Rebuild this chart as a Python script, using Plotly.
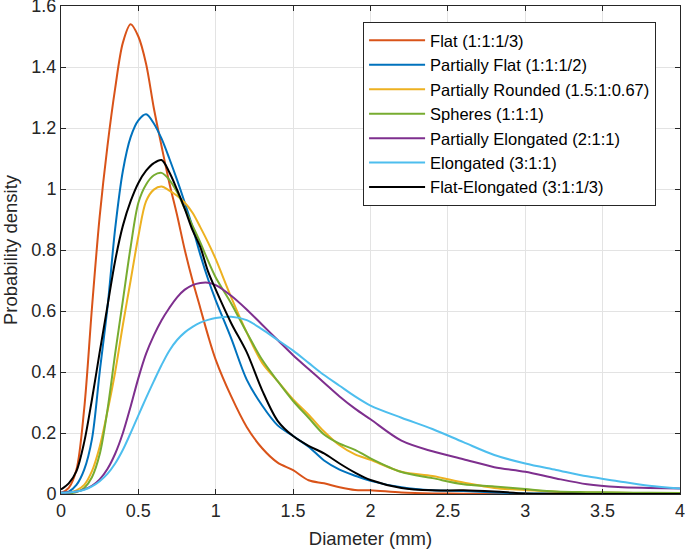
import plotly.graph_objects as go

# diameter grid (mm)
diameter = [0, 0.05, 0.1, 0.15, 0.2, 0.25, 0.3, 0.35, 0.4, 0.45, 0.5, 0.55, 0.6, 0.65,
            0.7, 0.75, 0.8, 0.85, 0.9, 0.95, 1.0, 1.1, 1.2, 1.3, 1.4, 1.5, 1.6, 1.7,
            1.8, 1.9, 2.0, 2.2, 2.4, 2.6, 2.8, 3.0, 3.2, 3.4, 3.6, 3.8, 4.0]

flat = [0.003, 0.02, 0.08, 0.28, 0.61, 0.91, 1.14, 1.33, 1.48, 1.54, 1.50, 1.41, 1.265,
        1.14, 1.02, 0.915, 0.80, 0.70, 0.61, 0.52, 0.44, 0.32, 0.22, 0.15, 0.103, 0.078,
        0.045, 0.035, 0.022, 0.013, 0.012, 0.005, 0.002, 0.001, 0, 0, 0, 0, 0, 0, 0]
part_flat = [0.004, 0.008, 0.03, 0.08, 0.18, 0.40, 0.61, 0.87, 1.06, 1.17, 1.225, 1.245,
             1.215, 1.165, 1.10, 1.03, 0.955, 0.875, 0.785, 0.705, 0.635, 0.51, 0.375,
             0.29, 0.225, 0.19, 0.155, 0.11, 0.08, 0.06, 0.043, 0.022, 0.012, 0.01, 0.005,
             0.002, 0.001, 0, 0, 0, 0]
part_round = [0.002, 0.004, 0.012, 0.03, 0.075, 0.155, 0.27, 0.40, 0.555, 0.70, 0.845, 0.96,
              0.998, 1.008, 0.995, 0.978, 0.955, 0.922, 0.875, 0.825, 0.77, 0.645, 0.53,
              0.43, 0.37, 0.31, 0.26, 0.205, 0.16, 0.13, 0.112, 0.073, 0.059, 0.038, 0.02,
              0.013, 0.007, 0.005, 0.004, 0.003, 0.002]
spheres = [0.001, 0.002, 0.006, 0.02, 0.055, 0.13, 0.275, 0.46, 0.635, 0.81, 0.955, 1.015,
           1.045, 1.053, 1.03, 0.99, 0.935, 0.88, 0.825, 0.765, 0.71, 0.625, 0.53, 0.44,
           0.37, 0.305, 0.25, 0.195, 0.165, 0.145, 0.117, 0.072, 0.052, 0.032, 0.025,
           0.016, 0.008, 0.006, 0.005, 0.004, 0.003]
part_elong = [0.004, 0.005, 0.008, 0.015, 0.027, 0.048, 0.082, 0.132, 0.2, 0.287, 0.38, 0.46,
              0.52, 0.57, 0.61, 0.645, 0.67, 0.685, 0.692, 0.693, 0.685, 0.65, 0.605,
              0.555, 0.505, 0.455, 0.41, 0.365, 0.32, 0.28, 0.245, 0.175, 0.14, 0.114,
              0.088, 0.073, 0.051, 0.032, 0.023, 0.02, 0.018]
elong = [0.004, 0.005, 0.008, 0.014, 0.025, 0.042, 0.066, 0.1, 0.145, 0.2, 0.258, 0.315,
         0.37, 0.423, 0.47, 0.505, 0.53, 0.548, 0.562, 0.571, 0.577, 0.581, 0.57, 0.54,
         0.505, 0.47, 0.43, 0.39, 0.355, 0.32, 0.29, 0.25, 0.213, 0.17, 0.128, 0.10,
         0.079, 0.058, 0.042, 0.027, 0.018]
flat_elong = [0.015, 0.035, 0.075, 0.17, 0.31, 0.465, 0.615, 0.765, 0.88, 0.96, 1.02, 1.06,
              1.085, 1.095, 1.055, 0.998, 0.935, 0.865, 0.81, 0.73, 0.67, 0.56, 0.465,
              0.34, 0.24, 0.19, 0.158, 0.133, 0.10, 0.07, 0.046, 0.02, 0.012, 0.012, 0.008,
              0.002, 0.001, 0, 0, 0, 0]

names = ["Flat (1:1:1/3)", "Partially Flat (1:1:1/2)", "Partially Rounded (1.5:1:0.67)",
         "Spheres (1:1:1)", "Partially Elongated (2:1:1)", "Elongated (3:1:1)",
         "Flat-Elongated (3:1:1/3)"]
colors = ["#D95319", "#0072BD", "#EDB120", "#77AC30", "#7E2F8E", "#4DBEEE", "#000000"]
series = [flat, part_flat, part_round, spheres, part_elong, elong, flat_elong]

x_ticks = [0, 0.5, 1, 1.5, 2, 2.5, 3, 3.5, 4]
x_labels = ["0", "0.5", "1", "1.5", "2", "2.5", "3", "3.5", "4"]
y_ticks = [0, 0.2, 0.4, 0.6, 0.8, 1.0, 1.2, 1.4, 1.6]
y_labels = ["0", "0.2", "0.4", "0.6", "0.8", "1", "1.2", "1.4", "1.6"]

fig = go.Figure()
for name, color, ys in zip(names, colors, series):
    fig.add_trace(go.Scatter(x=diameter, y=ys, name=name, mode="lines",
                             line=dict(color=color, width=2, shape="spline", smoothing=0.9)))

axis_style = dict(showline=True, linecolor="#262626", linewidth=1, mirror="ticks",
                  ticks="inside", ticklen=5, tickcolor="#262626", showgrid=True,
                  gridcolor="#e3e3e3", zeroline=False, automargin=False,
                  ticklabeloverflow="allow",
                  tickfont=dict(size=18, color="#262626"))

fig.update_xaxes(range=[0, 4.0001], tickvals=x_ticks, ticktext=x_labels,
                 title=dict(text="Diameter (mm)", font=dict(size=18.5), standoff=12),
                 **axis_style)
fig.update_yaxes(range=[0, 1.6001], tickvals=y_ticks, ticktext=y_labels,
                 title=dict(text="Probability density", font=dict(size=18.5), standoff=10),
                 **axis_style)

fig.update_layout(
    width=685, height=554,
    margin=dict(l=61, r=5, t=6, b=60),
    plot_bgcolor="white", paper_bgcolor="white",
    font=dict(family="Liberation Sans, Arial, sans-serif", color="#262626"),
    legend=dict(x=0.488, y=0.967, xanchor="left", yanchor="top", bgcolor="white",
                bordercolor="#262626", borderwidth=1, font=dict(size=16.5, color="#000000"),
                itemwidth=56, tracegroupgap=0),
)

# drop the default page margin so the figure sits at the window's corner
fig.write_html("out.html", config={"displayModeBar": False},
               post_script="document.body.style.margin='0px';")
